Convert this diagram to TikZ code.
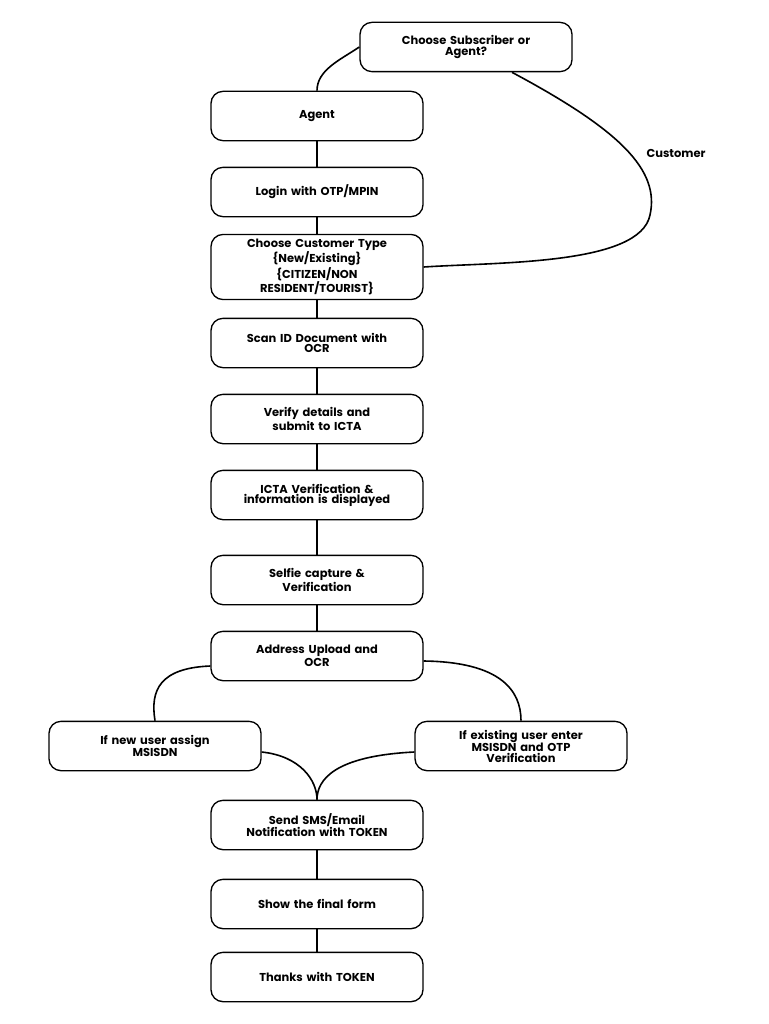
\documentclass[tikz,border=0pt]{standalone}
\usepackage{fontspec}
\setmainfont{Poppins}
\usetikzlibrary{positioning}

\begin{document}
\begin{tikzpicture}[x=0.75pt,y=0.75pt,yscale=-1,xscale=1,
  stepbox/.style={draw,line width=1pt,rounded corners=9pt,minimum width=159pt,minimum height=37pt,
    align=center,text width=150pt,font=\fontsize{8.6}{7.6}\selectfont\bfseries},
  link/.style={line width=1.2pt}]
\useasboundingbox (0,0) rectangle (768,1024);

%Boxes
\node[stepbox] (choose) at (466,47) {Choose Subscriber or\\Agent?};
\node[stepbox] (agent) at (317,116) {Agent};
\node[stepbox] (login) at (317,192) {Login with OTP/MPIN};
\node[stepbox] (ctype) at (317,267) {Choose Customer Type\\\{New/Existing\}\\\{CITIZEN/NON\\RESIDENT/TOURIST\}};
\node[stepbox] (scan) at (317,343) {Scan ID Document with\\OCR\\[3pt]};
\node[stepbox] (verify) at (317,419) {Verify details and\\submit to ICTA};
\node[stepbox] (icta) at (317,495) {ICTA Verification \&\\information is displayed};
\node[stepbox] (selfie) at (317,580) {Selfie capture \&\\Verification\\[3pt]};
\node[stepbox] (address) at (317,656) {Address Upload and\\OCR\\[6pt]};
\node[stepbox] (newuser) at (155,746) {If new user assign\\MSISDN\\[3pt]};
\node[stepbox] (olduser) at (521,746) {If existing user enter\\MSISDN and OTP\\Verification};
\node[stepbox] (notify) at (317,825) {Send SMS/Email\\Notification with TOKEN\\[3pt]};
\node[stepbox] (final) at (317,904) {Show the final form};
\node[stepbox] (thanks) at (317,977) {Thanks with TOKEN};

%Connectors
\draw[link] (agent.north) .. controls (317,70) and (340,60) .. (choose.west);
\path (choose.south) ++(46,0) coordinate (cs);
\draw[link] (cs) .. controls (620,130) and (660,170) .. (650,215)
  .. controls (640,265) and (500,262) .. (ctype.east);
\draw (676,153) node[font=\fontsize{8.6}{7.6}\selectfont\bfseries] {Customer};
\draw[link] (agent) -- (login);
\draw[link] (login) -- (ctype);
\draw[link] (ctype) -- (scan);
\draw[link] (scan) -- (verify);
\draw[link] (verify) -- (icta);
\draw[link] (icta) -- (selfie);
\draw[link] (selfie) -- (address);
\path (address.west) ++(0,10) coordinate (aw);
\draw[link] (aw) .. controls (160,668) and (150,690) .. (newuser.north);
\path (address.east) ++(0,5) coordinate (ae);
\draw[link] (ae) .. controls (500,662) and (521,690) .. (olduser.north);
\path (newuser.east) ++(0,6) coordinate (ne);
\draw[link] (ne) .. controls (300,756) and (317,780) .. (notify.north);
\path (olduser.west) ++(0,6) coordinate (ow);
\draw[link] (ow) .. controls (334,756) and (317,780) .. (notify.north);
\draw[link] (notify) -- (final);
\draw[link] (final) -- (thanks);
\end{tikzpicture}
\end{document}
